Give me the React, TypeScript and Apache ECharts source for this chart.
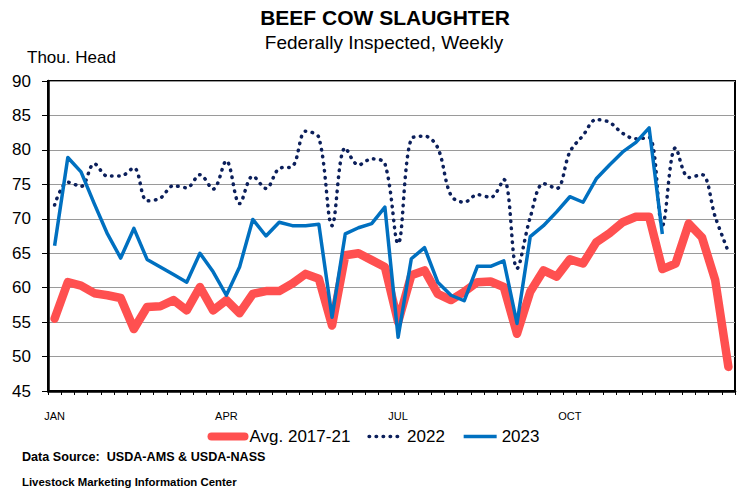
import React, { useEffect, useRef } from "react";
import * as echarts from "echarts";

// 52 weekly categories
const weeks: string[] = Array.from({ length: 52 }, (_, i) => `W${i + 1}`);
const monthTickIndex: number[] = [0, 13, 26, 39];
const monthTickLabels: string[] = ["JAN", "APR", "JUL", "OCT"];

const avg2017_21: number[] = [
  55.5, 60.8, 60.3, 59.2, 58.9, 58.5, 54.0, 57.2, 57.3, 58.2,
  56.7, 60.1, 56.7, 58.2, 56.3, 59.1, 59.5, 59.5, 60.6, 62.0,
  61.3, 54.5, 64.7, 65.0, 64.0, 63.0, 55.0, 61.8, 62.5, 59.1,
  58.2, 59.4, 60.8, 60.9, 60.1, 53.3, 59.4, 62.5, 61.6, 64.1,
  63.5, 66.6, 67.9, 69.5, 70.3, 70.3, 62.7, 63.5, 69.3, 67.3,
  61.1, 48.5,
];

const y2022: number[] = [
  72.0, 75.3, 74.7, 78.0, 76.2, 76.2, 77.4, 72.6, 73.0, 74.8,
  74.5, 76.4, 74.3, 78.4, 72.2, 76.2, 74.4, 77.3, 77.6, 82.7,
  81.8, 69.0, 80.3, 77.8, 78.7, 78.0, 66.4, 81.6, 82.0, 80.3,
  73.4, 72.4, 73.5, 73.1, 75.7, 62.8, 70.2, 75.1, 74.4, 79.7,
  82.1, 84.4, 84.0, 82.4, 81.6, 81.8, 69.0, 80.3, 76.0, 76.4,
  70.3, 65.2,
];

const y2023: (number | null)[] = [
  66.1, 78.9, 76.8, 72.2, 67.8, 64.3, 68.6, 64.1, 63.0, 61.9,
  60.8, 65.0, 62.3, 58.9, 63.0, 69.9, 67.5, 69.5, 69.0, 69.0,
  69.2, 55.7, 67.8, 68.7, 69.3, 71.7, 52.8, 64.2, 65.8, 60.8,
  58.9, 58.1, 63.1, 63.1, 63.9, 54.8, 67.4, 69.0, 71.0, 73.2,
  72.4, 75.8, 77.8, 79.7, 81.1, 83.2, 67.8,
];

const FONT = "'Liberation Sans', Arial, sans-serif";
const RED = "#FF5050";
const NAVY = "#0B1F5B";
const BLUE = "#0070C0";

export default function App() {
  const ref = useRef<HTMLDivElement>(null);
  useEffect(() => {
    if (!ref.current) return;
    const chart = echarts.init(ref.current, undefined, { renderer: "svg" });
    const labelMap: Record<number, string> = {};
    monthTickIndex.forEach((idx, k) => (labelMap[idx] = monthTickLabels[k]));
    chart.setOption({
      animation: false,
      backgroundColor: "#fff",
      textStyle: { fontFamily: FONT },
      grid: {
        left: 48,
        right: 12,
        top: 81,
        bottom: 109,
        show: true,
        borderColor: "#000",
        borderWidth: 2,
      },
      xAxis: {
        type: "category",
        data: weeks,
        boundaryGap: true,
        axisLine: { lineStyle: { color: "#000", width: 2.5 } },
        axisTick: {
          show: true,
          interval: 0,
          length: 4,
          lineStyle: { color: "#000", width: 1 },
        },
        axisLabel: {
          interval: (index: number) => labelMap[index] !== undefined,
          formatter: (_v: string, index: number) => labelMap[index] ?? "",
          fontSize: 11,
          margin: 19,
          color: "#000",
          fontFamily: FONT,
        },
        splitLine: { show: false },
      },
      yAxis: {
        type: "value",
        min: 45,
        max: 90,
        interval: 5,
        axisLine: { show: true, lineStyle: { color: "#000", width: 2.5 } },
        axisTick: { show: true, length: 6, lineStyle: { color: "#000", width: 1 } },
        axisLabel: { fontSize: 17, margin: 17, color: "#000", fontFamily: FONT },
        splitLine: { lineStyle: { color: "#9a9a9a", width: 1 } },
      },
      legend: {
        top: 423,
        left: "center",
        itemWidth: 33,
        itemHeight: 8,
        itemGap: 17,
        itemStyle: { opacity: 0 },
        textStyle: { fontSize: 17, color: "#000", fontFamily: FONT },
        data: [
          { name: "Avg. 2017-21", lineStyle: { width: 8, color: RED, cap: "round" } },
          { name: "2022", lineStyle: { width: 3.5, color: NAVY, type: [0.5, 6.5], cap: "round" } },
          { name: "2023", lineStyle: { width: 3.5, color: BLUE } },
        ],
      },
      series: [
        {
          name: "Avg. 2017-21",
          type: "line",
          data: avg2017_21,
          symbol: "none",
          lineStyle: { color: RED, width: 8.5, cap: "round", join: "round" },
          itemStyle: { color: RED },
          z: 2,
        },
        {
          name: "2022",
          type: "line",
          data: y2022,
          symbol: "none",
          smooth: 0.35,
          lineStyle: {
            color: NAVY,
            width: 3.5,
            type: [0.5, 6.5],
            cap: "round",
          },
          itemStyle: { color: NAVY },
          z: 3,
        },
        {
          name: "2023",
          type: "line",
          data: y2023,
          symbol: "none",
          lineStyle: { color: BLUE, width: 3.5, join: "round" },
          itemStyle: { color: BLUE },
          z: 4,
        },
      ],
      graphic: [
        {
          type: "text",
          x: 385,
          y: 17,
          style: {
            text: "BEEF COW SLAUGHTER",
            fontSize: 21,
            fontWeight: "bold",
            fontFamily: FONT,
            fill: "#000",
            align: "center",
            verticalAlign: "middle",
          },
        },
        {
          type: "text",
          x: 384,
          y: 42,
          style: {
            text: "Federally Inspected, Weekly",
            fontSize: 19,
            fontFamily: FONT,
            fill: "#000",
            align: "center",
            verticalAlign: "middle",
          },
        },
        {
          type: "text",
          x: 27,
          y: 57,
          style: {
            text: "Thou. Head",
            fontSize: 17,
            fontFamily: FONT,
            fill: "#000",
            align: "left",
            verticalAlign: "middle",
          },
        },
        {
          type: "text",
          x: 22,
          y: 457,
          style: {
            text: "Data Source:  USDA-AMS & USDA-NASS",
            fontSize: 12.6,
            fontWeight: "bold",
            fontFamily: FONT,
            fill: "#000",
            align: "left",
            verticalAlign: "middle",
          },
        },
        {
          type: "text",
          x: 22,
          y: 482,
          style: {
            text: "Livestock Marketing Information Center",
            fontSize: 11.4,
            fontWeight: "bold",
            fontFamily: FONT,
            fill: "#000",
            align: "left",
            verticalAlign: "middle",
          },
        },
      ],
    });
    return () => chart.dispose();
  }, []);
  return (
    <div
      ref={ref}
      style={{ position: "fixed", left: 0, top: 0, width: 747, height: 500 }}
    />
  );
}
